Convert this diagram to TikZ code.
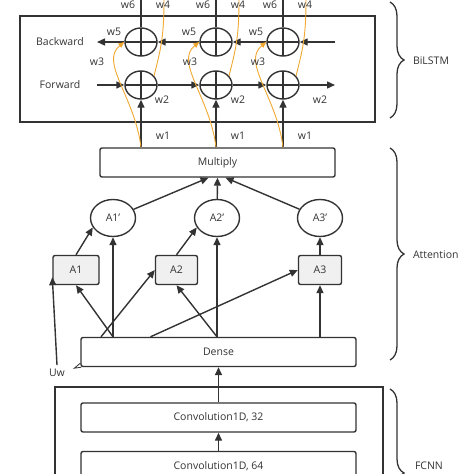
\documentclass[tikz,border=0pt]{standalone}
\usepackage{fontspec}
\setmainfont{Open Sans}
\usetikzlibrary{arrows.meta,shapes.geometric,decorations.pathreplacing}
\definecolor{ink}{HTML}{333333}
\definecolor{lstm}{HTML}{F0A830}

\begin{document}
\begin{tikzpicture}[x=1pt,y=-1pt,
  font=\fontsize{10.5}{12}\selectfont, color=ink, line width=1.4pt,
  arr/.style={-{Triangle[length=8pt,width=7pt]}},
  oarr/.style={lstm, line width=0.9pt, -{Triangle[length=6pt,width=5pt]}},
  gate/.style={draw, ellipse, minimum width=32pt, minimum height=28pt, inner sep=0pt,
    path picture={\draw (path picture bounding box.north) -- (path picture bounding box.south)
      (path picture bounding box.west) -- (path picture bounding box.east);}},
  layer/.style={draw, rounded corners=2pt, minimum height=29pt, inner sep=0pt},
  att/.style={draw, rounded corners=2pt, fill=gray!12, minimum height=29pt, inner sep=0pt},
  attp/.style={draw, ellipse, minimum width=45pt, minimum height=37pt, inner sep=0pt},
  frame/.style={line width=2.2pt},
  brace/.style={decorate, decoration={brace, amplitude=14pt}, line width=1.3pt}]
  \useasboundingbox (0,0) rectangle (474,474);
  \clip (0,0) rectangle (474,474);

  \draw[frame] (20,16) rectangle (375,122);
  \draw[frame] (55,387) rectangle (383,520);

  \foreach \c/\x in {1/141,2/216,3/283}{
    \node[gate] (b\c) at (\x,42) {};
    \node[gate] (f\c) at (\x,85) {};
    \coordinate (t\c) at (\x,0);
    \coordinate (o\c) at (\x+23,0);
  }
  \coordinate (fin) at (97,85);
  \coordinate (fout) at (335,85);
  \coordinate (bin) at (335,42);
  \coordinate (bout) at (97,42);
  \node (bw) at (60,42) {Backward};
  \node (fw) at (60,85) {Forward};

  \node[layer, minimum width=235pt] (mul) at (217.5,162.5) {Multiply};
  \node[attp] (a1p) at (113,218) {A1'};
  \node[attp] (a2p) at (217,218) {A2'};
  \node[attp] (a3p) at (320,218) {A3'};
  \node[att, minimum width=46pt] (a1) at (76,270) {A1};
  \node[att, minimum width=42pt] (a2) at (176.5,270) {A2};
  \node[att, minimum width=43pt] (a3) at (320,270) {A3};
  \node[layer, minimum width=275pt] (den) at (218.5,352) {Dense};
  \node (uw) at (57,373) {Uw};
  \node[layer, minimum width=275pt] (c32) at (218.5,417.5) {Convolution1D, 32};
  \node[layer, minimum width=275pt] (c64) at (218.5,466) {Convolution1D, 64};

  \draw[arr] (fin) -- (f1.west);
  \draw[arr] (f1.east) -- (f2.west);
  \draw[arr] (f2.east) -- (f3.west);
  \draw[arr] (f3.east) -- (fout);
  \draw[arr] (bin) -- (b3.east);
  \draw[arr] (b3.west) -- (b2.east);
  \draw[arr] (b2.west) -- (b1.east);
  \draw[arr] (b1.west) -- (bout);
  \foreach \c in {1,2,3}{
    \draw (t\c) -- (b\c);
    \draw[arr] (f\c |- mul.north) -- (f\c);
    \draw[oarr] (f\c |- mul.north) .. controls +(-6,-50) and +(-25,20) .. (b\c.west);
    \draw[lstm, line width=0.9pt] (f\c.35) .. controls +(6,-25) and +(0,40) .. (o\c);
  }
  \foreach \c/\x/\wt/\wtw in {1/141/97/162,2/216/190/238,3/283/258/320}{
    \node (w6-\c) at (\x-13,5) {w6};
    \node (w4-\c) at (\x+22,5) {w4};
    \node (w5-\c) at (\x-27,32) {w5};
    \node (w3-\c) at (\wt,62) {w3};
    \node (w2-\c) at (\wtw,100) {w2};
    \node (w1-\c) at (\x+22,136) {w1};
  }

  \draw[arr] (a1p) -- ([xshift=-9pt]mul.south);
  \draw[arr] (a2p) -- (mul.south);
  \draw[arr] (a3p) -- ([xshift=8pt]mul.south);
  \draw[arr] (a1.north) -- (a1p.205);
  \draw[arr] (a2.north) -- (a2p.205);
  \draw[arr] (a3) -- (a3p);
  \draw[arr] (a1p |- den.north) -- (a1.south);
  \draw[arr] (a1p |- den.north) -- (a1p);
  \draw[arr] ([xshift=-12pt]a1p |- den.north) -- (a2.west);
  \draw[arr] (a2p |- den.north) -- (a2.south);
  \draw[arr] (a2p |- den.north) -- (a2p);
  \draw[arr] ([xshift=-68pt]den.north) -- (a3.west);
  \draw[arr] (a3 |- den.north) -- (a3.south);
  \draw[arr] (uw.north) -- ([yshift=8pt]a1.south west);
  \draw[line width=0.8pt] ([yshift=4pt]den.south west) -- ++(-6,5) -- ([xshift=1pt]den.south west);
  \draw[arr] (c32) -- (den);
  \draw[arr] (c64) -- (c32);

  \draw[brace] (390,2) -- (390,118);
  \node[anchor=west] (lb) at (409,61) {BiLSTM};
  \draw[brace] (390,148) -- (390,360);
  \node[anchor=west] (la) at (409,255) {Attention};
  \draw[brace] (390,389) -- (390,557);
  \node[anchor=west] (lf) at (411,466) {FCNN};
\end{tikzpicture}
\end{document}
